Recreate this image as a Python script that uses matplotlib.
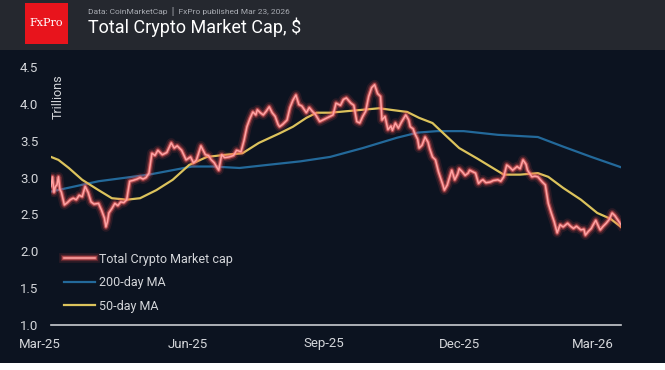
#!/usr/bin/env python3
"""Total crypto market cap with 50- and 200-day moving averages."""
import matplotlib
matplotlib.use('Agg')
import matplotlib.pyplot as plt
import matplotlib.patheffects as pe
import matplotlib.transforms as mtransforms
import pandas as pd
from matplotlib.patches import Rectangle

OUTPUT_FILE = 'out.png'

# Colours
COLOR_HEADER = '#25282f'
COLOR_BG = '#0c1320'
COLOR_TEXT = '#d4d6da'
COLOR_CAP = '#ffa3a3'
COLOR_GLOW = '#ff4f4f'
COLOR_MA200 = '#23699a'
COLOR_MA50 = '#dcc35c'

# Total market cap, trillions $
cap_dates = [
    '2025-03-01', '2025-03-02', '2025-03-03', '2025-03-04', '2025-03-05', '2025-03-06', '2025-03-07', '2025-03-08',
    '2025-03-10', '2025-03-12', '2025-03-14', '2025-03-16', '2025-03-18', '2025-03-20', '2025-03-22', '2025-03-24',
    '2025-03-26', '2025-03-28', '2025-03-30',
    '2025-04-02', '2025-04-04', '2025-04-06', '2025-04-07', '2025-04-08', '2025-04-09', '2025-04-11', '2025-04-13',
    '2025-04-15', '2025-04-17', '2025-04-19', '2025-04-21', '2025-04-23', '2025-04-25', '2025-04-28', '2025-04-30',
    '2025-05-02', '2025-05-04', '2025-05-06', '2025-05-08', '2025-05-10', '2025-05-12', '2025-05-14', '2025-05-15',
    '2025-05-18', '2025-05-21', '2025-05-23', '2025-05-25', '2025-05-28', '2025-05-31',
    '2025-06-03', '2025-06-05', '2025-06-07', '2025-06-10', '2025-06-12', '2025-06-13', '2025-06-15', '2025-06-17',
    '2025-06-19', '2025-06-21', '2025-06-22', '2025-06-24', '2025-06-26', '2025-06-29',
    '2025-07-02', '2025-07-04', '2025-07-07', '2025-07-09', '2025-07-11', '2025-07-13', '2025-07-15', '2025-07-17',
    '2025-07-18', '2025-07-20', '2025-07-22', '2025-07-24', '2025-07-26', '2025-07-28', '2025-07-30',
    '2025-08-01', '2025-08-02', '2025-08-04', '2025-08-07', '2025-08-09', '2025-08-11', '2025-08-13', '2025-08-15',
    '2025-08-17', '2025-08-20', '2025-08-22', '2025-08-24', '2025-08-26', '2025-08-29', '2025-08-31',
    '2025-09-03', '2025-09-05', '2025-09-07', '2025-09-09', '2025-09-12', '2025-09-14', '2025-09-16', '2025-09-19',
    '2025-09-21', '2025-09-23', '2025-09-25', '2025-09-27', '2025-09-29',
    '2025-10-01', '2025-10-03', '2025-10-05', '2025-10-07', '2025-10-09', '2025-10-10', '2025-10-12', '2025-10-14',
    '2025-10-16', '2025-10-17', '2025-10-19', '2025-10-21', '2025-10-23', '2025-10-26', '2025-10-28', '2025-10-29',
    '2025-10-31',
    '2025-11-01', '2025-11-03', '2025-11-04', '2025-11-06', '2025-11-08', '2025-11-10', '2025-11-11', '2025-11-13',
    '2025-11-15', '2025-11-17', '2025-11-18', '2025-11-20', '2025-11-21', '2025-11-23', '2025-11-24', '2025-11-26',
    '2025-11-28', '2025-11-30',
    '2025-12-01', '2025-12-03', '2025-12-05', '2025-12-07', '2025-12-08', '2025-12-10', '2025-12-12', '2025-12-14',
    '2025-12-16', '2025-12-17', '2025-12-19', '2025-12-22', '2025-12-24', '2025-12-27', '2025-12-29', '2025-12-31',
    '2026-01-02', '2026-01-04', '2026-01-06', '2026-01-09', '2026-01-11', '2026-01-13', '2026-01-15', '2026-01-16',
    '2026-01-19', '2026-01-21', '2026-01-23', '2026-01-26', '2026-01-28', '2026-01-30',
    '2026-02-01', '2026-02-03', '2026-02-05', '2026-02-07', '2026-02-09', '2026-02-12', '2026-02-14', '2026-02-16',
    '2026-02-18', '2026-02-21', '2026-02-23', '2026-02-24', '2026-02-26', '2026-02-28',
    '2026-03-01', '2026-03-03', '2026-03-05', '2026-03-06', '2026-03-08', '2026-03-10', '2026-03-12', '2026-03-14',
    '2026-03-16', '2026-03-18', '2026-03-20',
]
cap_values = [
    2.88, 3.01, 2.80, 2.88, 2.90, 3.01, 2.84, 2.80,
    2.63, 2.66, 2.70, 2.72, 2.70, 2.76, 2.74, 2.88,
    2.80, 2.67, 2.64,
    2.65, 2.56, 2.45, 2.33, 2.40, 2.52, 2.58, 2.65,
    2.62, 2.67, 2.66, 2.70, 2.95, 2.96, 2.98, 3.00,
    2.98, 3.00, 3.06, 3.33, 3.30, 3.37, 3.33, 3.31,
    3.34, 3.47, 3.40, 3.43, 3.37, 3.24,
    3.28, 3.20, 3.24, 3.43, 3.35, 3.31, 3.30, 3.24,
    3.20, 3.13, 3.10, 3.31, 3.27, 3.28,
    3.30, 3.37, 3.35, 3.50, 3.69, 3.80, 3.89, 3.85,
    3.92, 3.88, 3.85, 3.90, 3.96, 3.88, 3.83,
    3.72, 3.69, 3.72, 3.78, 3.95, 4.05, 4.12, 3.99,
    3.97, 3.88, 3.95, 3.90, 3.86, 3.76, 3.78,
    3.81, 3.83, 3.85, 4.01, 3.98, 4.06, 4.08, 4.01,
    3.98, 3.76, 3.74, 3.83, 3.90,
    4.10, 4.22, 4.26, 4.14, 4.10, 3.78, 3.83, 3.65,
    3.70, 3.64, 3.74, 3.67, 3.75, 3.85, 3.78, 3.69,
    3.66,
    3.60, 3.52, 3.40, 3.44, 3.55, 3.48, 3.40, 3.28,
    3.24, 3.08, 3.02, 2.90, 2.83, 2.90, 2.97, 3.10,
    2.97, 3.05,
    3.12, 3.08, 3.03, 3.06, 3.10, 3.08, 3.06, 2.92,
    2.96, 2.97, 2.93, 2.94, 2.96, 2.97, 2.95, 3.01,
    3.17, 3.14, 3.10, 3.15, 3.12, 3.24, 3.18, 3.10,
    3.01, 3.02, 3.01, 2.94, 2.90, 2.65,
    2.52, 2.40, 2.25, 2.36, 2.33, 2.38, 2.34, 2.31,
    2.34, 2.29, 2.30, 2.22, 2.27, 2.31,
    2.35, 2.42, 2.33, 2.29, 2.34, 2.38, 2.43, 2.52,
    2.48, 2.42, 2.36,
]

# 200-day moving average
ma200_dates = ['2025-03-01', '2025-04-02', '2025-05-06', '2025-06-04', '2025-06-18', '2025-07-06',
               '2025-07-24', '2025-08-16', '2025-09-05', '2025-09-27', '2025-10-20', '2025-11-03',
               '2025-11-16', '2025-12-04', '2025-12-27', '2026-01-23', '2026-02-09', '2026-02-28',
               '2026-03-20']
ma200_values = [2.81, 2.95, 3.04, 3.15, 3.15, 3.13,
                3.17, 3.22, 3.28, 3.40, 3.54, 3.61,
                3.63, 3.63, 3.58, 3.55, 3.42, 3.28,
                3.14]

# 50-day moving average
ma50_dates = ['2025-03-01', '2025-03-06', '2025-03-13', '2025-03-22', '2025-04-02', '2025-04-11',
              '2025-04-21', '2025-04-30', '2025-05-11', '2025-05-22', '2025-06-02', '2025-06-14',
              '2025-06-27', '2025-07-08', '2025-07-19', '2025-08-02', '2025-08-11', '2025-08-20',
              '2025-08-27', '2025-09-05', '2025-09-27', '2025-10-08', '2025-10-27', '2025-11-04',
              '2025-11-13', '2025-11-23', '2025-12-01', '2025-12-13', '2025-12-22', '2025-12-31',
              '2026-01-11', '2026-01-23', '2026-01-30', '2026-02-09', '2026-02-21', '2026-03-04',
              '2026-03-13', '2026-03-20']
ma50_values = [3.28, 3.24, 3.13, 2.97, 2.83, 2.72,
               2.70, 2.72, 2.83, 2.97, 3.17, 3.28,
               3.31, 3.33, 3.47, 3.60, 3.69, 3.81,
               3.88, 3.88, 3.92, 3.94, 3.89, 3.81,
               3.74, 3.55, 3.40, 3.26, 3.15, 3.04,
               3.04, 3.06, 3.01, 2.86, 2.70, 2.52,
               2.44, 2.33]

tick_dates = ['2025-03-01', '2025-06-01', '2025-09-01', '2025-12-01', '2026-03-01']
tick_labels = ['Mar-25', 'Jun-25', 'Sep-25', 'Dec-25', 'Mar-26']
y_ticks = [1.0, 1.5, 2.0, 2.5, 3.0, 3.5, 4.0, 4.5]


def create_chart(output_path: str) -> None:
    plt.rcParams['font.family'] = ['Roboto', 'DejaVu Sans']

    W, H = 665, 370
    fig = plt.figure(figsize=(W / 100, H / 100), dpi=100)
    fig.patch.set_facecolor(COLOR_BG)

    # header band, bottom white strip, logo
    fig.add_artist(Rectangle((0, 1 - 50 / H), 1, 50 / H, transform=fig.transFigure,
                             facecolor=COLOR_HEADER, edgecolor='none', zorder=0))
    fig.add_artist(Rectangle((0, 0), 1, 7 / H, transform=fig.transFigure,
                             facecolor='white', edgecolor='none', zorder=0))
    fig.add_artist(Rectangle((25 / W, 1 - 44 / H), 43 / W, 41 / H, transform=fig.transFigure,
                             facecolor='#e8141c', edgecolor='none', zorder=1))
    fig.text(46.5 / W, 1 - 23.5 / H, 'FxPro', color='white', fontsize=8,
             family='DejaVu Serif', ha='center', va='center')
    fig.text(88 / W, 1 - 12 / H, 'Data: CoinMarketCap  \u01c0  FxPro published Mar 23, 2026',
             color='#a8abb2', fontsize=6, ha='left', va='center')
    fig.text(88 / W, 1 - 27 / H, 'Total Crypto Market Cap, $', color='white',
             fontsize=13, ha='left', va='center')

    ax = fig.add_axes([51 / W, 45 / H, 570 / W, 258 / H])
    ax.set_facecolor(COLOR_BG)

    cap_x = pd.to_datetime(cap_dates)
    ma200_x = pd.to_datetime(ma200_dates)
    ma50_x = pd.to_datetime(ma50_dates)

    glow = [pe.Stroke(linewidth=7, foreground=COLOR_GLOW, alpha=0.12),
            pe.Stroke(linewidth=4.5, foreground=COLOR_GLOW, alpha=0.25),
            pe.Stroke(linewidth=2.6, foreground='#ff7070', alpha=0.6),
            pe.Normal()]
    ax.plot(ma200_x, ma200_values, color=COLOR_MA200, linewidth=1.6, zorder=2, label='200-day MA')
    ax.plot(ma50_x, ma50_values, color=COLOR_MA50, linewidth=1.6, zorder=3, label='50-day MA')
    ax.plot(cap_x, cap_values, color=COLOR_CAP, linewidth=1.1, zorder=4,
            path_effects=glow, label='Total Crypto Market cap')

    ax.set_xlim(pd.Timestamp('2025-03-01'), pd.Timestamp('2026-03-20'))
    ax.set_ylim(1.0, 4.5)
    ax.set_yticks(y_ticks)
    ax.set_yticklabels([f'{v:.1f}' for v in y_ticks])
    ax.set_xticks(pd.to_datetime(tick_dates))
    ax.set_xticklabels(tick_labels)
    ax.tick_params(axis='both', length=0, colors=COLOR_TEXT, labelsize=9.5)
    ax.tick_params(axis='y', pad=9)
    ax.tick_params(axis='x', pad=9)

    # first date label sits a bit to the left in the original
    first = ax.get_xticklabels()[0]
    first.set_transform(first.get_transform() +
                        mtransforms.ScaledTranslation(-11 / 100, 0, fig.dpi_scale_trans))

    for side in ('top', 'right', 'left'):
        ax.spines[side].set_visible(False)
    ax.spines['bottom'].set_color('#c9cbd0')
    ax.spines['bottom'].set_linewidth(1.2)

    ax.text(58 / W, 1 - 97 / H, 'Trillions', transform=fig.transFigure, rotation=90,
            color=COLOR_TEXT, fontsize=9, ha='center', va='center')

    handles, labels = ax.get_legend_handles_labels()
    order = [2, 0, 1]
    leg = ax.legend([handles[i] for i in order], [labels[i] for i in order],
                    loc='upper left', bbox_to_anchor=(0.012, 0.305), frameon=False,
                    fontsize=9, handlelength=2.5, handletextpad=0.3, labelspacing=0.85,
                    borderpad=0)
    for t in leg.get_texts():
        t.set_color(COLOR_TEXT)

    fig.savefig(output_path, dpi=100, facecolor=fig.get_facecolor())
    plt.close(fig)


if __name__ == '__main__':
    create_chart(OUTPUT_FILE)
